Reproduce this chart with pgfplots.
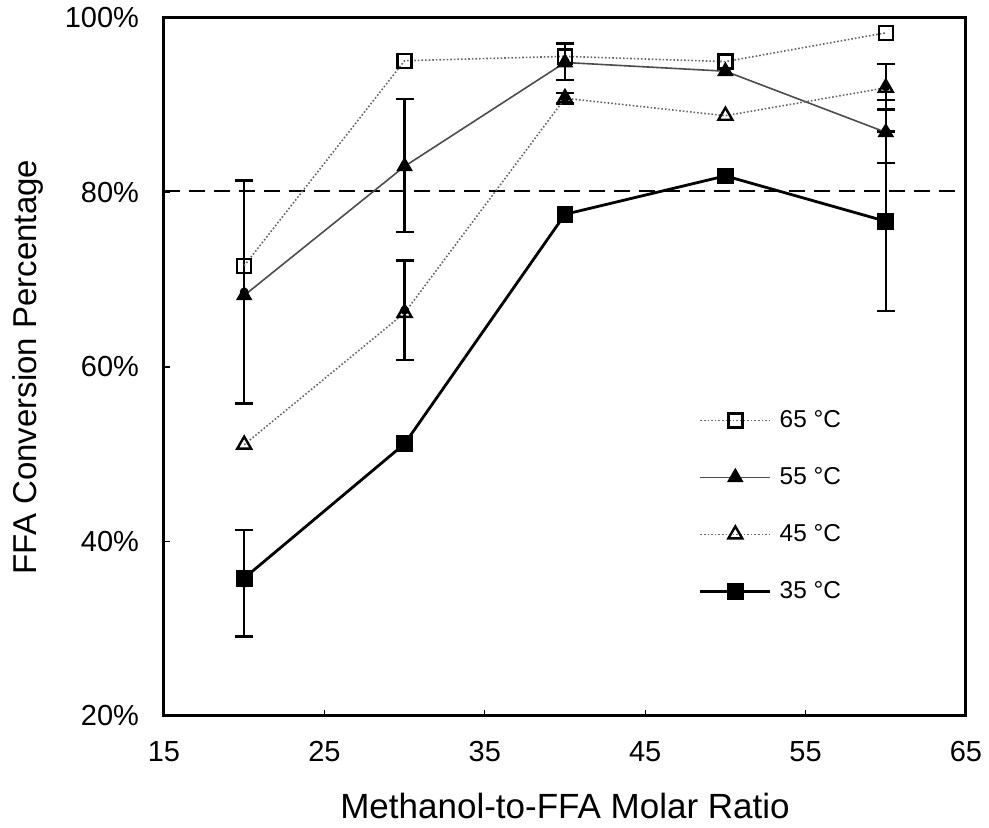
\documentclass[border=0pt]{standalone}
\usepackage{fontspec}
\setmainfont{Liberation Sans}
\usepackage{pgfplots}
\pgfplotsset{compat=1.18}

\begin{document}
\begin{tikzpicture}
\begin{axis}[
  scale only axis,
  width=401pt, height=349pt,
  xmin=15, xmax=65, ymin=20, ymax=100,
  xtick={15,25,35,45,55,65},
  ytick={20,40,60,80,100},
  yticklabel={\pgfmathprintnumber{\tick}\%},
  /pgf/number format/assume math mode=true,
  tick label style={font=\fontsize{14.5}{16}\selectfont},
  xlabel={Methanol-to-FFA Molar Ratio},
  ylabel={FFA Conversion Percentage},
  xlabel style={font=\fontsize{17.5}{20}\selectfont, yshift=-9pt},
  ylabel style={font=\fontsize{16.5}{19}\selectfont, yshift=4pt},
  xticklabel style={yshift=-9pt},
  yticklabel style={xshift=-9pt},
  axis line style={line width=1.5pt},
  tick style={black, line width=0.6pt},
  tick align=inside,
  major tick length=3pt,
  xtick pos=bottom, ytick pos=left,
  clip=false,
  legend cell align=left,
  legend style={draw=none, fill=none, font=\fontsize{12.2}{14}\selectfont,
    at={(0.659,0.45)}, anchor=north west, row sep=14.5pt,
    nodes={inner xsep=4pt}},
  legend image code/.code={
    \draw[mark repeat=2, mark phase=2, #1]
      plot coordinates {(0pt,0pt) (17.5pt,0pt) (35pt,0pt)};},
]

% 80 % target line
\addplot[black, line width=1pt, dash pattern=on 8pt off 4.5pt, forget plot]
  coordinates {(15,80.2) (65,80.2)};

% error bars
\pgfplotsset{
  ebar/.style={black, only marks, mark=none, forget plot,
    error bars/.cd, y dir=both, y explicit,
    error bar style={line width=1.25pt, black},
    error mark options={rotate=90, mark size=4.5pt, line width=1.25pt, black}}}
\addplot[ebar] coordinates {
  (20,68.6) +- (0,12.8)
  (30,83.1) +- (0,7.6)
  (40,95.0) +- (0,2.1)
  (60,87.0) +- (0,3.6)};
\addplot[ebar] coordinates {
  (30,66.5) +- (0,5.7)
  (40,90.8) +- (0,0.6)
  (60,92.1) +- (0,2.6)};
\addplot[ebar] coordinates {
  (20,35.2) +- (0,6.1)
  (60,76.7) +- (0,10.3)};

% 65 C
\addplot[gray!80!black, densely dotted, line width=0.8pt,
  mark=square, mark size=3.5pt,
  mark options={solid, black, fill=white, line width=1.2pt}]
  coordinates {(20,71.6) (30,95.1) (40,95.6) (50,95.0) (60,98.3)};
\addlegendentry{65 °C}

% 55 C
\addplot[black!70, line width=0.8pt,
  mark=triangle*, mark size=4pt,
  mark options={solid, black, fill=black}]
  coordinates {(20,68.2) (30,83.0) (40,94.9) (50,93.9) (60,86.9)};
\addlegendentry{55 °C}

% 45 C
\addplot[gray!80!black, densely dotted, line width=0.8pt,
  mark=triangle, mark size=4pt,
  mark options={solid, black, fill=white, line width=1.2pt}]
  coordinates {(20,51.1) (30,66.2) (40,90.8) (50,88.8) (60,92.0)};
\addlegendentry{45 °C}

% 35 C
\addplot[black, line width=1.4pt,
  mark=square*, mark size=3.5pt,
  mark options={solid, black, fill=black}]
  coordinates {(20,35.8) (30,51.2) (40,77.5) (50,81.9) (60,76.7)};
\addlegendentry{35 °C}

\coordinate (bbsw) at (rel axis cs:0,0);
\coordinate (bbne) at (rel axis cs:1,1);
\end{axis}
\pgfresetboundingbox
\path ([xshift=-82pt,yshift=-56pt]bbsw) rectangle ([xshift=11.5pt,yshift=9pt]bbne);
\end{tikzpicture}
\end{document}
